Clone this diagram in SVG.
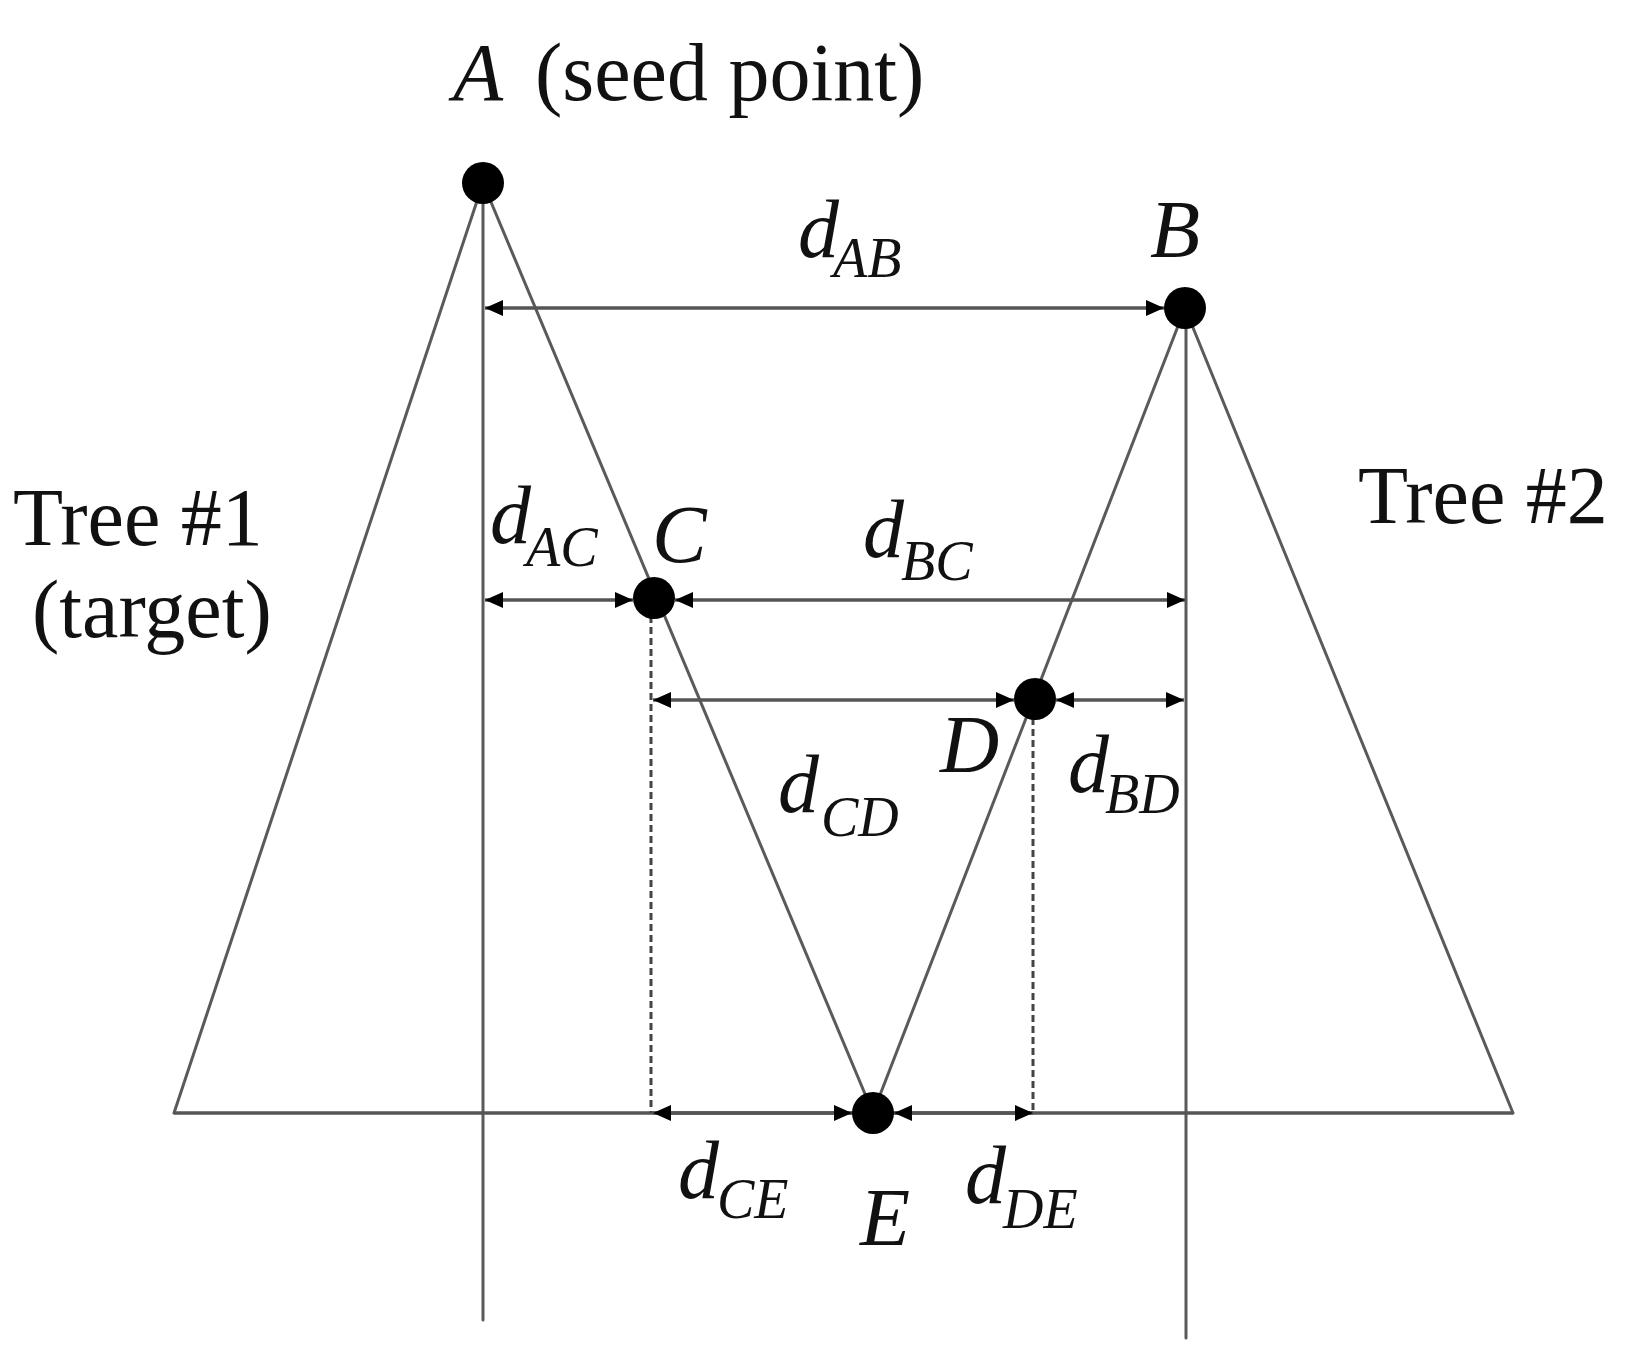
<svg xmlns="http://www.w3.org/2000/svg" width="1630" height="1367" viewBox="0 0 1630 1367">
<style>
.ln{stroke:#5a5a5a;stroke-width:3;fill:none;stroke-linecap:round}
.dim{stroke:#555;stroke-width:3.5;fill:none}
.dash{stroke:#444;stroke-width:3;fill:none;stroke-dasharray:7 4}
.dot{fill:#000}
text{font-family:"Liberation Serif","Times New Roman",serif;fill:#111}
.it{font-style:italic}
.big{font-size:82px}
.sub{font-size:56px;font-style:italic}
</style>
<defs>
<marker id="ah" markerUnits="userSpaceOnUse" markerWidth="20" markerHeight="18" refX="18" refY="8" orient="auto-start-reverse">
<path d="M0,0 L18,8 L0,16 z" fill="#000"/>
</marker>
</defs>
<rect width="1630" height="1367" fill="#fff"/>
<g id="connectors">
<line class="ln" x1="483" y1="183" x2="483" y2="1320"/>
<line class="ln" x1="1186" y1="308" x2="1186" y2="1338"/>
<line class="ln" x1="483" y1="183" x2="174" y2="1113"/>
<line class="ln" x1="483" y1="183" x2="873" y2="1113"/>
<line class="ln" x1="1185" y1="308" x2="873" y2="1113"/>
<line class="ln" x1="1185" y1="308" x2="1513" y2="1113"/>
<line class="dim" x1="174" y1="1113" x2="1513" y2="1113"/>
<line class="dash" x1="651" y1="616" x2="651" y2="1113"/>
<line class="dash" x1="1033" y1="718" x2="1033" y2="1113"/>
<line class="dim" x1="485" y1="308" x2="1164" y2="308" marker-start="url(#ah)" marker-end="url(#ah)"/>
<line class="dim" x1="485" y1="600" x2="633" y2="600" marker-start="url(#ah)" marker-end="url(#ah)"/>
<line class="dim" x1="675" y1="600" x2="1185" y2="600" marker-start="url(#ah)" marker-end="url(#ah)"/>
<line class="dim" x1="653" y1="700" x2="1014" y2="700" marker-start="url(#ah)" marker-end="url(#ah)"/>
<line class="dim" x1="1056" y1="700" x2="1184" y2="700" marker-start="url(#ah)" marker-end="url(#ah)"/>
<line class="dim" x1="653" y1="1113" x2="852" y2="1113" marker-start="url(#ah)" marker-end="url(#ah)"/>
<line class="dim" x1="894" y1="1113" x2="1033" y2="1113" marker-start="url(#ah)" marker-end="url(#ah)"/>
</g>
<g id="nodeA"><circle class="dot" cx="483" cy="183" r="21"/>
<text x="453" y="100" class="big it" font-size="80">A</text><text x="535" y="100" class="big">(seed point)</text></g>
<g id="nodeB"><circle class="dot" cx="1185" cy="308" r="21"/>
<text x="1150" y="257" class="big it">B</text></g>
<g id="nodeC"><circle class="dot" cx="654" cy="598" r="21"/>
<text x="652" y="562" class="big it">C</text></g>
<g id="nodeD"><circle class="dot" cx="1035" cy="699" r="21"/>
<text x="940" y="772" class="big it">D</text></g>
<g id="nodeE"><circle class="dot" cx="873" cy="1113" r="21"/>
<text x="860" y="1245" class="big it">E</text></g>
<g id="tree1"><text x="13" y="545" class="big">Tree #1</text><text x="32" y="637" class="big">(target)</text></g>
<g id="tree2"><text x="1358" y="523" class="big">Tree #2</text></g>
<g id="labels">
<text x="798" y="257" class="big it">d</text><text x="833" y="277" class="sub">AB</text>
<text x="490" y="543" class="big it">d</text><text x="526" y="566" class="sub">AC</text>
<text x="863" y="557" class="big it">d</text><text x="901" y="580" class="sub">BC</text>
<text x="778" y="812" class="big it">d</text><text x="821" y="836" class="sub">CD</text>
<text x="1068" y="792" class="big it">d</text><text x="1105" y="813" class="sub">BD</text>
<text x="678" y="1198" class="big it">d</text><text x="717" y="1218" class="sub">CE</text>
<text x="965" y="1203" class="big it">d</text><text x="1003" y="1228" class="sub">DE</text>
</g>
</svg>
